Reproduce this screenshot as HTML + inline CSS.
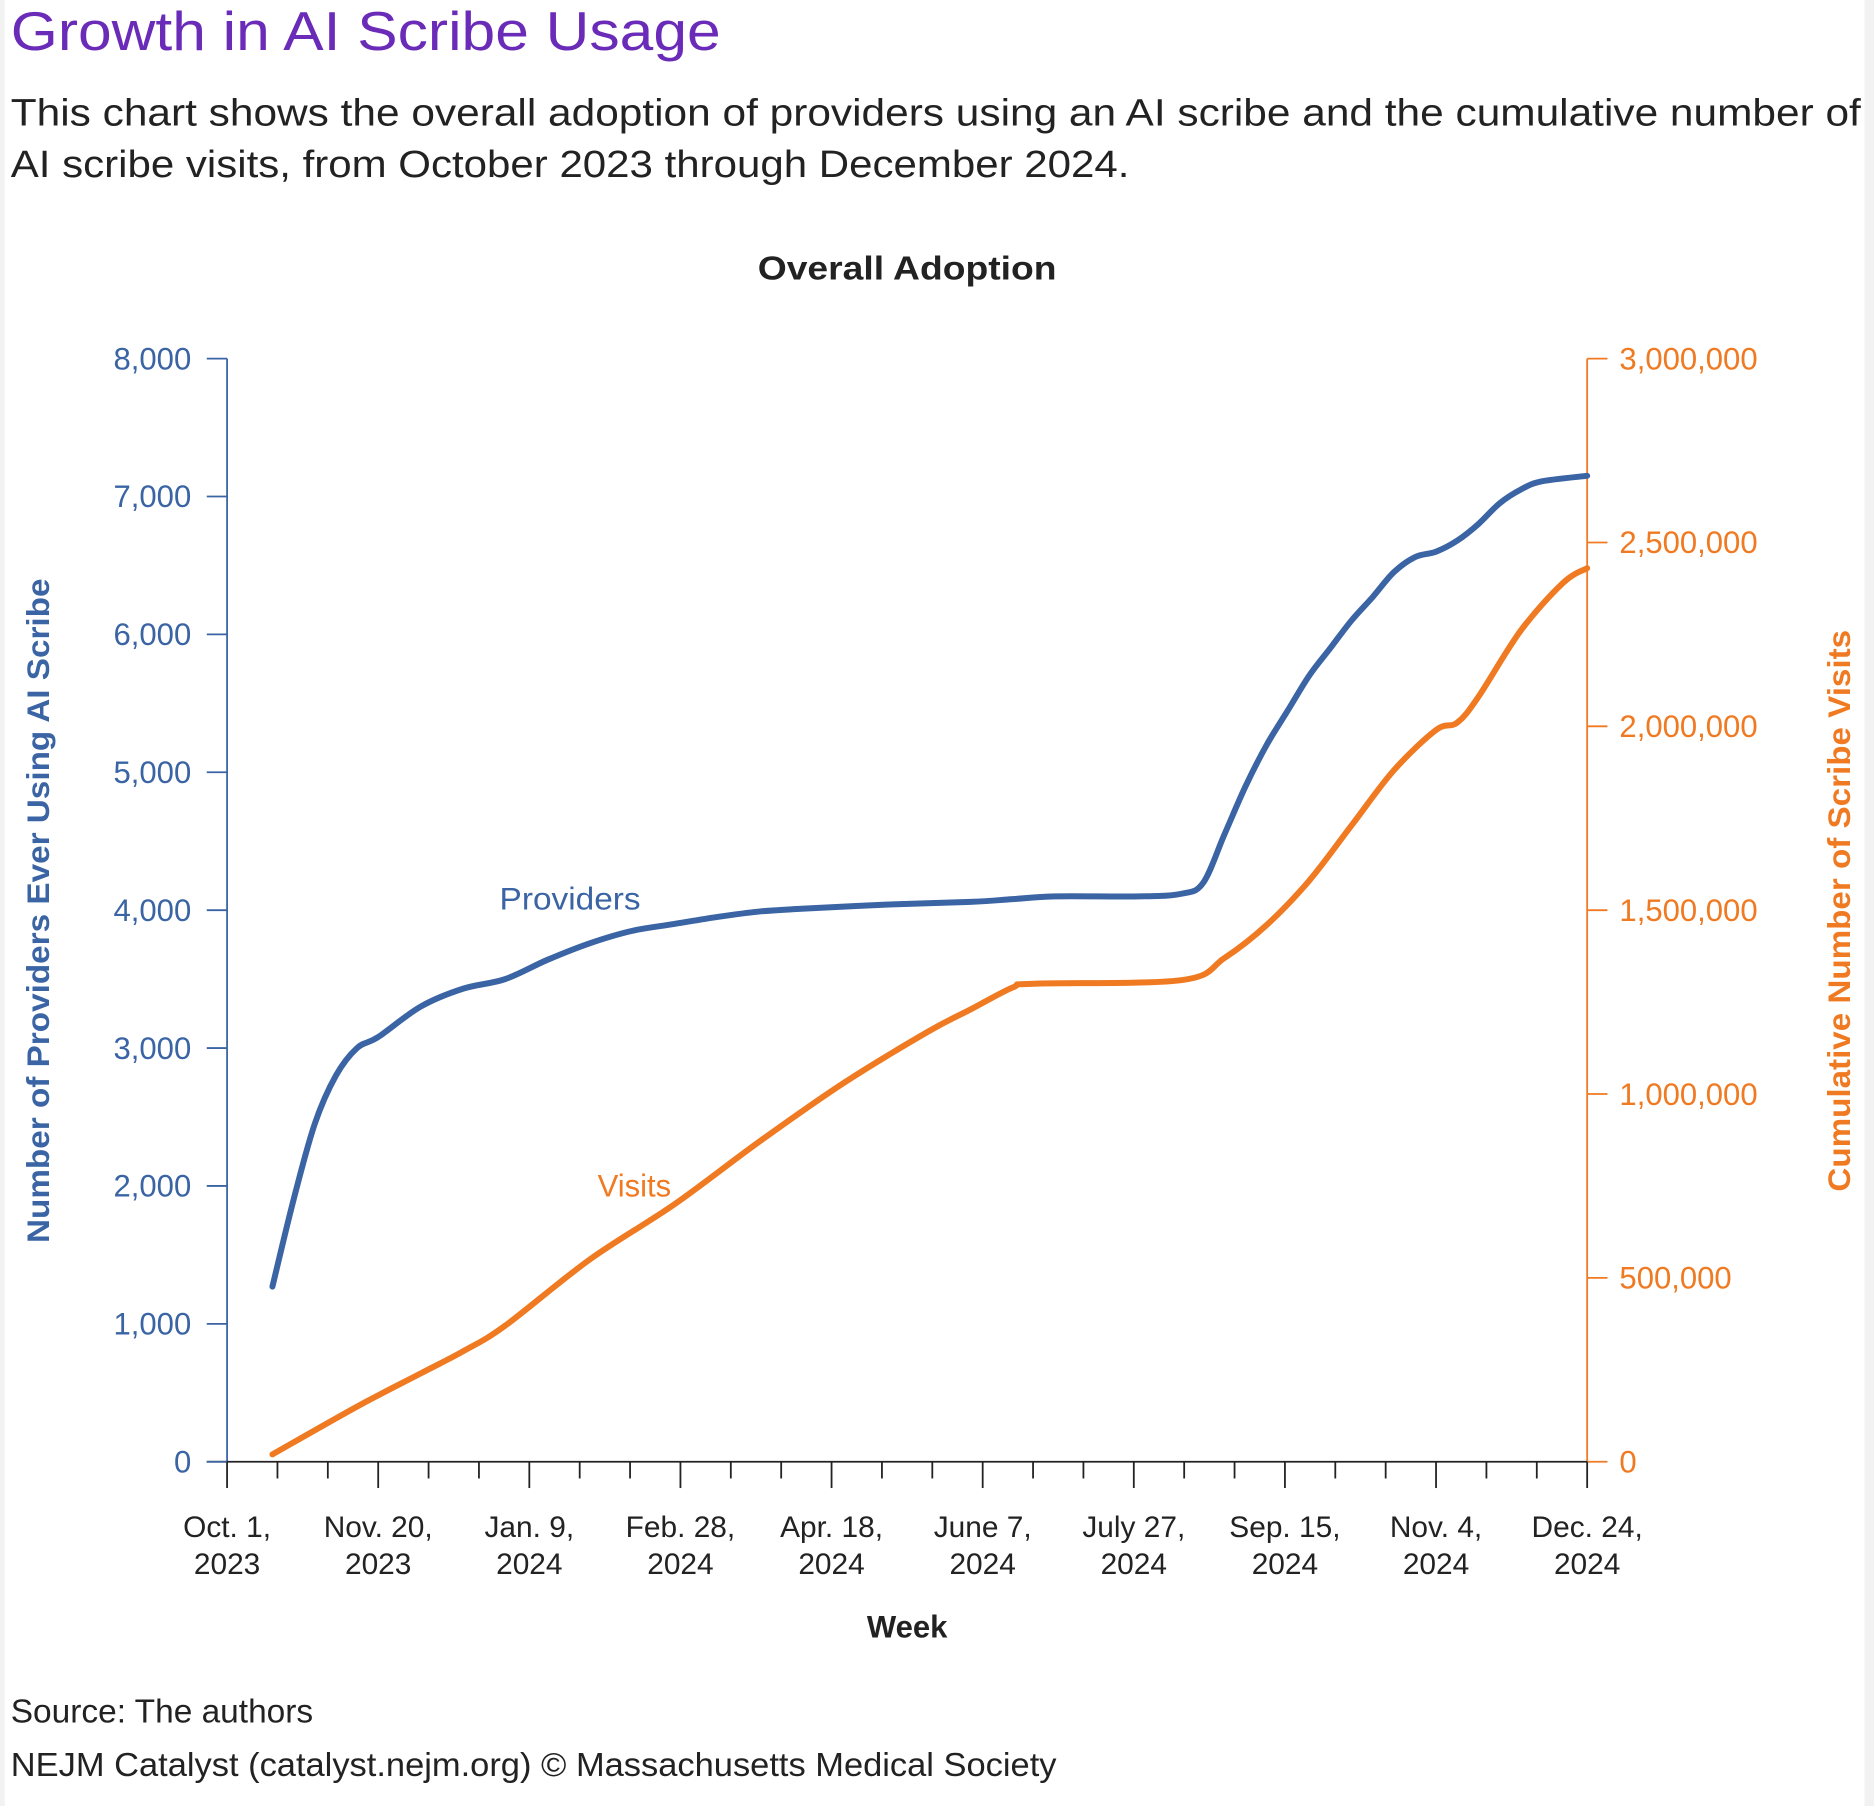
<!DOCTYPE html>
<html><head><meta charset="utf-8"><style>
html,body{margin:0;padding:0;background:#fff;}
svg{display:block;}
</style></head><body>
<svg id="chart" width="1874" height="1806" viewBox="0 0 1568 1511" xmlns="http://www.w3.org/2000/svg" font-family="Liberation Sans, sans-serif">
<rect x="0" y="0" width="1568" height="1511" fill="#fff"/>
<rect x="0" y="0" width="4" height="1511" fill="#f2f2f2"/>
<rect x="1560" y="0" width="8" height="1511" fill="#f2f2f2"/>
<text x="9" y="42" font-size="46" fill="#6a2bb8" textLength="594" lengthAdjust="spacingAndGlyphs">Growth in AI Scribe Usage</text>
<text x="9" y="105" font-size="32" fill="#222" textLength="1548" lengthAdjust="spacingAndGlyphs">This chart shows the overall adoption of providers using an AI scribe and the cumulative number of</text>
<text x="9" y="148" font-size="32" fill="#222" textLength="936" lengthAdjust="spacingAndGlyphs">AI scribe visits, from October 2023 through December 2024.</text>
<text x="759" y="234" font-size="28" font-weight="bold" text-anchor="middle" fill="#222" textLength="250" lengthAdjust="spacingAndGlyphs">Overall Adoption</text>
<g id="axes"></g>
<g id="marks"></g>
<text x="418" y="761" font-size="26" fill="#3a64a4" textLength="118" lengthAdjust="spacingAndGlyphs">Providers</text>
<text x="500" y="1001" font-size="26" fill="#f07a22">Visits</text>
<text x="759" y="1370" font-size="26" font-weight="bold" text-anchor="middle" fill="#222">Week</text>
<text transform="translate(41,762) rotate(-90)" font-size="26" font-weight="bold" text-anchor="middle" fill="#3a64a4" textLength="556" lengthAdjust="spacingAndGlyphs">Number of Providers Ever Using AI Scribe</text>
<text transform="translate(1548,762) rotate(-90)" font-size="26" font-weight="bold" text-anchor="middle" fill="#f07a22" textLength="470" lengthAdjust="spacingAndGlyphs">Cumulative Number of Scribe Visits</text>
<text x="9" y="1441" font-size="28" fill="#222" textLength="253" lengthAdjust="spacingAndGlyphs">Source: The authors</text>
<text x="9" y="1486" font-size="28" fill="#222" textLength="875" lengthAdjust="spacingAndGlyphs">NEJM Catalyst (catalyst.nejm.org) © Massachusetts Medical Society</text>
</svg>
<script>
const providerDays=[15,22,29,36,43,50,64,78,92,106,120,134,148,162,176,190,218,246,260,274,302,316,323,330,337,344,351,358,365,372,379,386,393,400,407,414,421,428,435,450];
const providerValues=[1270,1900,2450,2800,3000,3080,3300,3430,3500,3640,3760,3850,3900,3950,3990,4010,4040,4060,4080,4100,4100,4120,4200,4550,4900,5200,5450,5700,5900,6100,6270,6450,6560,6600,6680,6800,6950,7050,7110,7150];
const visitDays=[15,43,64,78,92,120,148,176,204,232,246,260,267,316,330,344,358,372,386,400,407,414,428,442,450];
const visitValues=[20000,150000,240000,300000,370000,550000,700000,870000,1030000,1170000,1230000,1290000,1300000,1310000,1370000,1460000,1580000,1730000,1880000,1990000,2010000,2080000,2260000,2390000,2430000];
const leftTicks=[0,1000,2000,3000,4000,5000,6000,7000,8000];
const rightTicks=[0,500000,1000000,1500000,2000000,2500000,3000000];
const xTickDays=[0,50,100,150,200,250,300,350,400,450];
const xTickLabels=[["Oct. 1,","2023"],["Nov. 20,","2023"],["Jan. 9,","2024"],["Feb. 28,","2024"],["Apr. 18,","2024"],["June 7,","2024"],["July 27,","2024"],["Sep. 15,","2024"],["Nov. 4,","2024"],["Dec. 24,","2024"]];

const X0=190,X1=1328,Y0=1223,Y1=300,NS="http://www.w3.org/2000/svg";
const xs=d=>X0+(X1-X0)*d/450;
const yl=v=>Y0-(Y0-Y1)*v/8000;
const yr=v=>Y0-(Y0-Y1)*v/3000000;
const fmt=v=>v.toLocaleString('en-US');
function mk(tag,attrs,parent){const e=document.createElementNS(NS,tag);for(const k in attrs)e.setAttribute(k,attrs[k]);parent.appendChild(e);return e;}
const axes=document.getElementById('axes'),marks=document.getElementById('marks');

let e=mk('line',{x1:X0,y1:Y1,x2:X0,y2:Y0,stroke:'#3a64a4','stroke-width':1.5},axes);


e=mk('line',{x1:X1,y1:Y1,x2:X1,y2:Y0,stroke:'#f07a22','stroke-width':1.5},axes);


e=mk('line',{x1:X0-17,y1:Y0,x2:X1,y2:Y0,stroke:'#222','stroke-width':1.5},axes);



leftTicks.forEach(v=>{
  const y=yl(v);
  const t=mk('line',{x1:X0-17,y1:y,x2:X0,y2:y,stroke:'#3a64a4','stroke-width':1.5},axes);
  
  
  const l=mk('text',{x:X0-30,y:y+9,'font-size':26,'text-anchor':'end',fill:'#3a64a4'},axes);
  l.textContent=fmt(v);
  
  
});
rightTicks.forEach(v=>{
  const y=yr(v);
  const t=mk('line',{x1:X1,y1:y,x2:X1+17,y2:y,stroke:'#f07a22','stroke-width':1.5},axes);
  
  
  const l=mk('text',{x:X1+27,y:y+9,'font-size':26,'text-anchor':'start',fill:'#f07a22'},axes);
  l.textContent=fmt(v);
  
  
});
for(let d=0;d<=450.01;d+=50/3){
  const major=Math.abs(d/50-Math.round(d/50))<0.01;
  const t=mk('line',{x1:xs(d),y1:Y0,x2:xs(d),y2:Y0+(major?22:14),stroke:'#222','stroke-width':1.5},axes);
  
  
}
xTickDays.forEach((d,i)=>{
  const l=mk('text',{x:xs(d),y:1286,'font-size':25,'text-anchor':'middle',fill:'#222'},axes);
  
  
  const a=mk('tspan',{x:xs(d),dy:0},l);a.textContent=xTickLabels[i][0];
  const b=mk('tspan',{x:xs(d),dy:31},l);b.textContent=xTickLabels[i][1];
});

function smooth(pts){
  let d='M'+pts[0][0]+','+pts[0][1];
  for(let i=0;i<pts.length-1;i++){
    const p0=pts[i-1]||pts[i],p1=pts[i],p2=pts[i+1],p3=pts[i+2]||p2;
    const c1=[p1[0]+(p2[0]-p0[0])/6,p1[1]+(p2[1]-p0[1])/6];
    const c2=[p2[0]-(p3[0]-p1[0])/6,p2[1]-(p3[1]-p1[1])/6];
    d+=' C'+c1.join(',')+' '+c2.join(',')+' '+p2.join(',');
  }
  return d;
}
let p=mk('path',{d:smooth(visitDays.map((d,i)=>[xs(d),yr(visitValues[i])])),fill:'none',stroke:'#f07a22','stroke-width':5,'stroke-linecap':'round','stroke-linejoin':'round'},marks);


p=mk('path',{d:smooth(providerDays.map((d,i)=>[xs(d),yl(providerValues[i])])),fill:'none',stroke:'#3a64a4','stroke-width':5,'stroke-linecap':'round','stroke-linejoin':'round'},marks);


</script>
</body></html>
